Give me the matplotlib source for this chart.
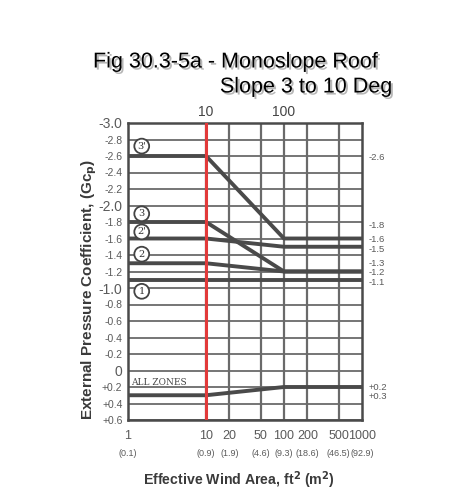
import matplotlib
matplotlib.use("Agg")
import matplotlib.pyplot as plt
import matplotlib.patheffects as pe
import numpy as np

# ---- data ----
area = [1, 10, 100, 1000]
zone1 = [-1.1, -1.1, -1.1, -1.1]
zone2 = [-1.3, -1.3, -1.2, -1.2]
zone2p = [-1.6, -1.6, -1.5, -1.5]
zone3 = [-1.8, -1.8, -1.2, -1.2]
zone3p = [-2.6, -2.6, -1.6, -1.6]
all_zones = [0.3, 0.3, 0.2, 0.2]

zone_labels = ["3'", "3", "2'", "2", "1"]
zone_label_y = [-2.72, -1.9, -1.68, -1.41, -0.96]

ytick_vals = [-3.0, -2.8, -2.6, -2.4, -2.2, -2.0, -1.8, -1.6, -1.4, -1.2, -1.0,
              -0.8, -0.6, -0.4, -0.2, 0.0, 0.2, 0.4, 0.6]
ytick_labels = ["-3.0", "-2.8", "-2.6", "-2.4", "-2.2", "-2.0", "-1.8", "-1.6", "-1.4",
                "-1.2", "-1.0", "-0.8", "-0.6", "-0.4", "-0.2", "0", "+0.2", "+0.4", "+0.6"]
major_y = ["-3.0", "-2.0", "-1.0", "0"]

xtick_ft = [1, 10, 20, 50, 100, 200, 500, 1000]
xtick_m = ["(0.1)", "(0.9)", "(1.9)", "(4.6)", "(9.3)", "(18.6)", "(46.5)", "(92.9)"]
vgrid = [10, 20, 50, 100, 200, 500]
top_ticks = [10, 100]

right_labels = ["-2.6", "-1.8", "-1.6", "-1.5", "-1.3", "-1.2", "-1.1", "+0.2", "+0.3"]
right_label_y = [-2.58, -1.76, -1.59, -1.47, -1.30, -1.19, -1.07, 0.2, 0.32]

# ---- figure ----
W, H = 474, 493
fig = plt.figure(figsize=(W / 100, H / 100), dpi=100)
fig.patch.set_facecolor("white")
sans = ["Liberation Sans", "DejaVu Sans"]

ax = fig.add_axes([128 / W, 1 - 420 / H, 234 / W, 297 / H])
ax.set_xscale("log")
ax.set_xlim(1, 1000)
ax.set_ylim(0.6, -3.0)

grid_c = "#6a6a6a"
for v in ytick_vals:
    ax.axhline(v, color=grid_c, lw=1.3, zorder=1)
for v in vgrid:
    ax.axvline(v, color=grid_c, lw=1.6, zorder=1)

line_c = "#4a4a4a"
for ys in [zone1, zone2, zone2p, zone3, zone3p, all_zones]:
    ax.plot(area, ys, color=line_c, lw=2.8, zorder=3, solid_capstyle="butt")

ax.axvline(10, color="#e23a3a", lw=2.2, zorder=4)

for s in ax.spines.values():
    s.set_color("#4a4a4a")
    s.set_linewidth(1.8)

ax.set_xticks([])
ax.set_xticks([], minor=True)
ax.set_yticks(ytick_vals)
ax.set_yticklabels(ytick_labels)
ax.tick_params(axis="y", length=0, pad=4)
for t in ax.get_yticklabels():
    t.set_family(sans)
    t.set_color("#5a5a5a")
    t.set_fontsize(10 if t.get_text() in major_y else 7.5)

# zone circles
for lab, yv in zip(zone_labels, zone_label_y):
    ax.text(1.5, yv, lab, ha="center", va="center", fontsize=7, family="DejaVu Serif",
            color="#333333", zorder=5,
            bbox=dict(boxstyle="circle,pad=0.3", fc="white", ec="#444444", lw=1.3))

ax.text(1.08, 0.14, "ALL ZONES", ha="left", va="center", fontsize=6.5,
        family="DejaVu Serif", color="#444444", zorder=5)

# bottom tick labels
xt = ax.get_xaxis_transform()
for ft, m in zip(xtick_ft, xtick_m):
    ax.text(ft, -0.035, str(ft), transform=xt, ha="center", va="top", fontsize=9,
            family=sans, color="#5a5a5a", clip_on=False)
    ax.text(ft, -0.098, m, transform=xt, ha="center", va="top", fontsize=6.5,
            family=sans, color="#5a5a5a", clip_on=False)

for ft in top_ticks:
    ax.text(ft, 1.015, str(ft), transform=xt, ha="center", va="bottom", fontsize=10,
            family=sans, color="#444444", clip_on=False)

# right labels
yt = ax.get_yaxis_transform()
for lab, yv in zip(right_labels, right_label_y):
    ax.text(1.03, yv, lab, transform=yt, ha="left", va="center", fontsize=6.8,
            family=sans, color="#5a5a5a", clip_on=False)

# axis labels
fig.text(89 / W, 1 - 289 / H, "External Pressure Coefficient, (Gc$_\\mathbf{p}$)",
         rotation=90, ha="center", va="center", fontsize=11, fontweight="bold",
         family=sans, color="#3a3a3a")
fig.text(239 / W, 1 - 480 / H, "Effective Wind Area, ft$^\\mathbf{2}$ (m$^\\mathbf{2}$)",
         ha="center", va="center", fontsize=10.2, fontweight="bold",
         family=sans, color="#3a3a3a")

shadow = [pe.SimplePatchShadow(offset=(1.5, -1.5), shadow_rgbFace="#888888", alpha=0.6),
          pe.Normal()]
fig.text(93 / W, 1 - 62 / H, "Fig 30.3-5a - Monoslope Roof", ha="left", va="center",
         fontsize=15.5, family=sans, color="black", path_effects=shadow)
fig.text(392 / W, 1 - 87 / H, "Slope 3 to 10 Deg", ha="right", va="center",
         fontsize=15.5, family=sans, color="black", path_effects=shadow)

fig.savefig("out.png", dpi=100, facecolor="white")
